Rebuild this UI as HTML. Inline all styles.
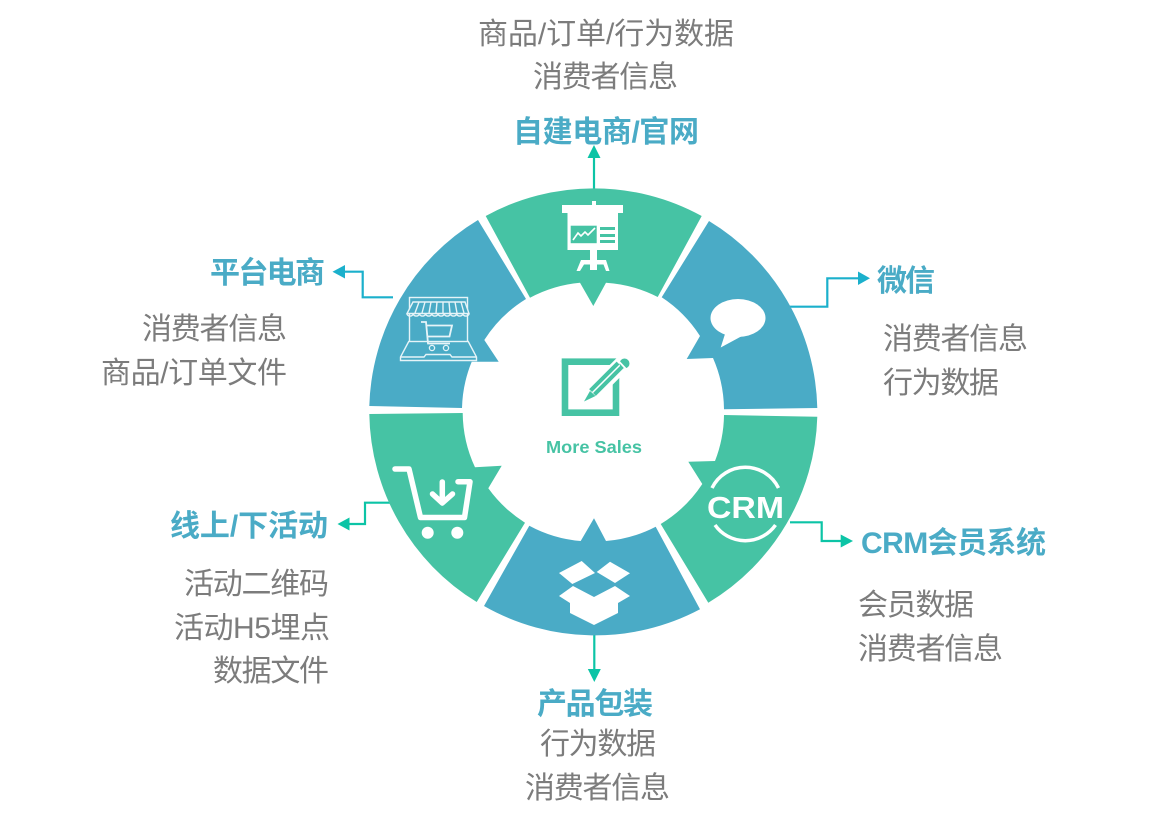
<!DOCTYPE html>
<html lang="zh"><head><meta charset="utf-8"><title>More Sales</title>
<style>
html,body{margin:0;padding:0;background:#fff;width:1168px;height:820px;overflow:hidden}
svg{display:block}
text{font-family:"Liberation Sans","Noto Sans CJK SC",sans-serif}
.g{font-size:30px;fill:#7c7c7c}
.b{font-size:30px;font-weight:700;fill:#4AABC6}
</style></head><body>
<svg width="1168" height="820" viewBox="0 0 1168 820" xmlns="http://www.w3.org/2000/svg">
<!-- connectors behind -->
<g fill="none" stroke-width="2.2">
<path d="M594 192V156" stroke="#0CC4A6"/>
<path d="M785 306.7H827.3V278.3H860" stroke="#1BB0CC"/>
<path d="M790 522.3H821.7V541H842" stroke="#0CC4A6"/>
<path d="M393 297.3H362.7V271.7H343" stroke="#1BB0CC"/>
<path d="M393 502.7H365V524H348" stroke="#0CC4A6"/>
<path d="M594.3 632V671" stroke="#0CC4A6"/>
</g>
<g>
<path d="M594 145L600.500 158H587.500Z" fill="#0CC4A6"/>
<path d="M870 278.300L858 271.500V285Z" fill="#1BB0CC"/>
<path d="M853 541L840.700 534.500V547.500Z" fill="#0CC4A6"/>
<path d="M332.500 271.700L345 265V278.500Z" fill="#1BB0CC"/>
<path d="M337.500 524L349.500 517.500V530.500Z" fill="#0CC4A6"/>
<path d="M594.300 682L587.800 669H600.800Z" fill="#0CC4A6"/>
</g>
<!-- ring segments -->
<path d="M369.3 406A224.5 224.5 0 0 1 478 220L526 299A131 131 0 0 0 484.3 340L498.7 361.7H471.7A131 131 0 0 0 462 408Z" fill="#4AABC6"/>
<path d="M485.7 216A224.5 224.5 0 0 1 701.7 216L657.7 297A131 131 0 0 0 606 282.7L593.3 306L580 282.7A131 131 0 0 0 530 297.7Z" fill="#46C3A4"/>
<path d="M709 221A224.5 224.5 0 0 1 817.3 408L724 409.3A131 131 0 0 0 713 358L686.7 359L700 336A131 131 0 0 0 661.7 297.3Z" fill="#4AABC6"/>
<path d="M817.3 416.7A224.5 224.5 0 0 1 708.3 602.7L660.7 524A131 131 0 0 0 702.3 484L688.3 461.7L715 461A131 131 0 0 0 724 415Z" fill="#46C3A4"/>
<path d="M700 609.3A224.5 224.5 0 0 1 484 606L529.3 525.7A131 131 0 0 0 580.7 541L594 518.3L606 541A131 131 0 0 0 655.7 526.7Z" fill="#4AABC6"/>
<path d="M369.3 414A224.5 224.5 0 0 0 476.7 602L525 522.7A131 131 0 0 1 488.3 488.3L501.700 465.700L475 467.300A131 131 0 0 1 462.700 413Z" fill="#46C3A4"/>
<!-- presentation board icon -->
<g fill="#fff">
<rect x="592" y="201" width="4" height="5"/>
<rect x="562" y="205" width="61" height="8"/>
<rect x="567.500" y="213" width="50.500" height="37"/>
<rect x="590" y="250" width="7" height="20"/>
<path d="M581 260H606L609.500 271H606L603.500 264.500H584L580 271H576.500Z"/>
</g>
<rect x="570.700" y="225.700" width="26" height="17.500" fill="#46C3A4"/>
<polyline points="573,240 578,233 581,236 585,232 588,235 595,228" fill="none" stroke="#fff" stroke-width="1.600"/>
<g fill="#46C3A4"><rect x="600" y="227" width="15" height="3"/><rect x="600" y="234" width="15" height="3"/><rect x="600" y="240" width="15" height="3"/></g>
<!-- shop icon -->
<g fill="none" stroke="#E6F4F8" stroke-width="1.400">
<rect x="409.500" y="297.500" width="58" height="44"/>
<path d="M413 302H465L469 313.500H407Z" fill="#4AABC6"/>
<path d="M407 313.500a3 2.500 0 0 0 6.200 0a3 2.500 0 0 0 6.200 0a3 2.500 0 0 0 6.200 0a3 2.500 0 0 0 6.200 0a3 2.500 0 0 0 6.200 0a3 2.500 0 0 0 6.200 0a3 2.500 0 0 0 6.200 0a3 2.500 0 0 0 6.200 0a3 2.500 0 0 0 6.200 0a3 2.500 0 0 0 6.200 0"/>
<path d="M419 302L415 313M425 302L422 313M431 302L429 313M437 302L436 313M443 302V313M449 302L450 313M455 302L457 313M461 302L464 313"/>
<path d="M409 341L400.500 357V360.500H476.500V357L468 341"/>
<path d="M400.500 357H424L426 354.500H450L452 357H476.500"/>
</g>
<g fill="none" stroke="#E6F4F8" stroke-width="1.800">
<path d="M421 322H426L428 343.500H450"/>
<path d="M427 325.500H452L449.500 336.500H428"/>
<circle cx="432" cy="348" r="2.600" stroke-width="1.300"/><circle cx="446" cy="348" r="2.600" stroke-width="1.300"/>
</g>
<!-- speech bubble -->
<ellipse cx="738" cy="318" rx="27.500" ry="19" fill="#fff"/>
<path d="M725 334L720.700 347.500L742 336Z" fill="#fff"/>
<!-- CRM icon -->
<g fill="none" stroke="#fff" stroke-width="3.500">
<path d="M712 488A37 37 0 0 1 778.500 488"/>
<path d="M715 525A37 37 0 0 0 775.500 525"/>
</g>
<text x="707" y="518" font-size="31" font-weight="700" fill="#fff" style="font-family:'Liberation Sans',sans-serif" textLength="77" lengthAdjust="spacingAndGlyphs">CRM</text>
<!-- open box icon -->
<g fill="#fff">
<path d="M559 573L581.700 561L595 573L572.300 584Z"/>
<path d="M596.700 572L610 561.700L630 573.300L615 583Z"/>
<path d="M559 596L573 586L594 597L615 586L630 596L618 603V613L594 625L570 613V603Z"/>
</g>
<!-- cart icon -->
<g fill="none" stroke="#fff" stroke-width="5.500" stroke-linecap="round" stroke-linejoin="round">
<path d="M395 469H409L420.500 517.500H464.500L470 481.700H458"/>
<path d="M442.300 482V501"/>
<path d="M432.500 494L442.300 503L452.500 494"/>
</g>
<circle cx="427.700" cy="532.700" r="6" fill="#fff"/><circle cx="457.300" cy="532.700" r="6" fill="#fff"/>
<!-- center pencil icon -->
<rect x="565" y="361.700" width="51" height="51" fill="none" stroke="#46C3A4" stroke-width="6.600"/>
<path d="M584 402L630 356" stroke="#fff" stroke-width="16" fill="none"/>
<path d="M592.500 392.500L620 365" stroke="#46C3A4" stroke-width="9.500" fill="none"/>
<path d="M592.500 392.500L620 365" stroke="#fff" stroke-width="1.500" fill="none"/>
<circle cx="624.500" cy="363.500" r="5" fill="#46C3A4"/>
<path d="M618 360.500L626 369" stroke="#fff" stroke-width="1.800" fill="none"/>
<path d="M584 401.500L590 391L595.500 396Z" fill="#46C3A4"/>
<text x="546" y="453" font-size="17.500" font-weight="700" fill="#46C3A4" textLength="96" lengthAdjust="spacingAndGlyphs">More Sales</text>
<!-- labels -->
<text class="g" x="478" y="44" textLength="256">商品/订单/行为数据</text>
<text class="g" x="533" y="87" textLength="145">消费者信息</text>
<text class="b" x="513" y="142" textLength="186">自建电商/官网</text>
<text class="b" x="210" y="283" textLength="115">平台电商</text>
<text class="g" x="142" y="339" textLength="145">消费者信息</text>
<text class="g" x="101" y="383" textLength="186">商品/订单文件</text>
<text class="b" x="877" y="291" textLength="58">微信</text>
<text class="g" x="883" y="349" textLength="145">消费者信息</text>
<text class="g" x="883" y="393" textLength="116">行为数据</text>
<text class="b" x="170" y="536" textLength="158">线上/下活动</text>
<text class="g" x="184" y="594" textLength="145">活动二维码</text>
<text class="g" x="174" y="638" textLength="156">活动H5埋点</text>
<text class="g" x="213" y="681" textLength="116">数据文件</text>
<text class="b" x="861" y="553" textLength="185">CRM会员系统</text>
<text class="g" x="858" y="615" textLength="116">会员数据</text>
<text class="g" x="858" y="659" textLength="145">消费者信息</text>
<text class="b" x="537" y="714" textLength="116">产品包装</text>
<text class="g" x="540" y="754" textLength="116">行为数据</text>
<text class="g" x="525" y="798" textLength="145">消费者信息</text>
</svg>
</body></html>
